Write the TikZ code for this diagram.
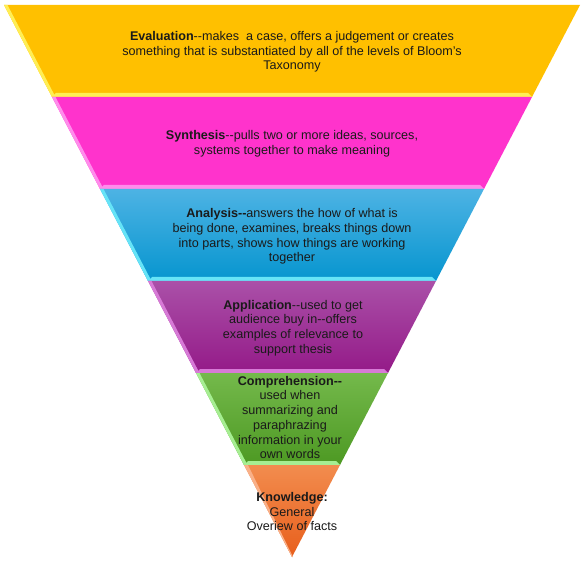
\documentclass[tikz,border=0pt]{standalone}
\usepackage{fontspec}
\setmainfont{Liberation Sans}
\definecolor{evalc}{HTML}{FFC000}
\definecolor{evalb}{HTML}{FFEE55}
\definecolor{sync}{HTML}{FF33CC}
\definecolor{synb}{HTML}{FF8CEB}
\definecolor{anat}{HTML}{4DB3E4}
\definecolor{anab}{HTML}{0695CF}
\definecolor{anal}{HTML}{66E4F7}
\definecolor{appt}{HTML}{AA50A8}
\definecolor{appb}{HTML}{941A88}
\definecolor{appl}{HTML}{D77AD6}
\definecolor{comt}{HTML}{74B94B}
\definecolor{comb}{HTML}{4D9923}
\definecolor{coml}{HTML}{A6EE92}
\definecolor{knot}{HTML}{F28C4E}
\definecolor{knob}{HTML}{E85F1C}
\definecolor{knol}{HTML}{F9B088}
\definecolor{txt}{HTML}{1A1A1A}
\newcommand\pyrband[9]{%
  \shade[top color=#7, bottom color=#8] (#3,#1) -- (#4,#1) -- (#6,#2) -- (#5,#2) -- cycle;
  \fill[#9] (#3,#1) -- (#3+3.5,#1) -- (#5+3.5,#2) -- (#5,#2) -- cycle;
  \fill[#9] (#5,#2) -- (#5+4,#2-4) -- (#6-4,#2-4) -- (#6,#2) -- cycle;
}
\newcommand\dd{-{}-}
\begin{document}
\begin{tikzpicture}[x=1pt,y=-1pt,
  lbl/.style={align=center, font=\fontsize{12.6}{14.7}\selectfont, text=txt, inner sep=0pt}]
\useasboundingbox (0,0) rectangle (584,564);
\pyrband{5}{97}{4}{580}{52}{532}{evalc}{evalc}{evalb}
\pyrband{97}{189}{52}{532}{100}{484}{sync}{sync}{synb}
\pyrband{189}{281}{100}{484}{148}{436}{anat}{anab}{anal}
\pyrband{281}{373}{148}{436}{196}{388}{appt}{appb}{appl}
\pyrband{373}{465}{196}{388}{244}{340}{comt}{comb}{coml}
\shade[top color=knot, bottom color=knob] (244,465) -- (340,465) -- (292,557) -- cycle;
\fill[knol] (244,465) -- (248,465) -- (293,557) -- (292,557) -- cycle;

\node[lbl] (eval) at (292,52) {\textbf{Evaluation}\dd makes\ \ a case, offers\ a judgement\ or creates\\something\ that is substantiated\ by all of the levels of Bloom's\\Taxonomy};
\node[lbl] (syn) at (292,143.5) {\textbf{Synthesis}\dd pulls\ two or more ideas, sources,\\systems together to make meaning};
\node[lbl] (ana) at (292,236.5) {\textbf{Analysis\dd}answers\ the how of what is\\being done, examines, breaks things down\\into parts, shows how things are working\\together};
\node[lbl] (app) at (293,328) {\textbf{Application}\dd used\ to get\\audience buy in\dd offers\\examples\ of relevance to\\support\ thesis};
\node[lbl] (com) at (290,417.5) {\textbf{Comprehension\dd}\\used when\\summarizing\ and\\paraphrazing\\information\ in your\\own words};
\node[lbl] (kno) at (292,511.5) {\textbf{Knowledge:}\\General\\Overiew of facts};
\end{tikzpicture}
\end{document}
